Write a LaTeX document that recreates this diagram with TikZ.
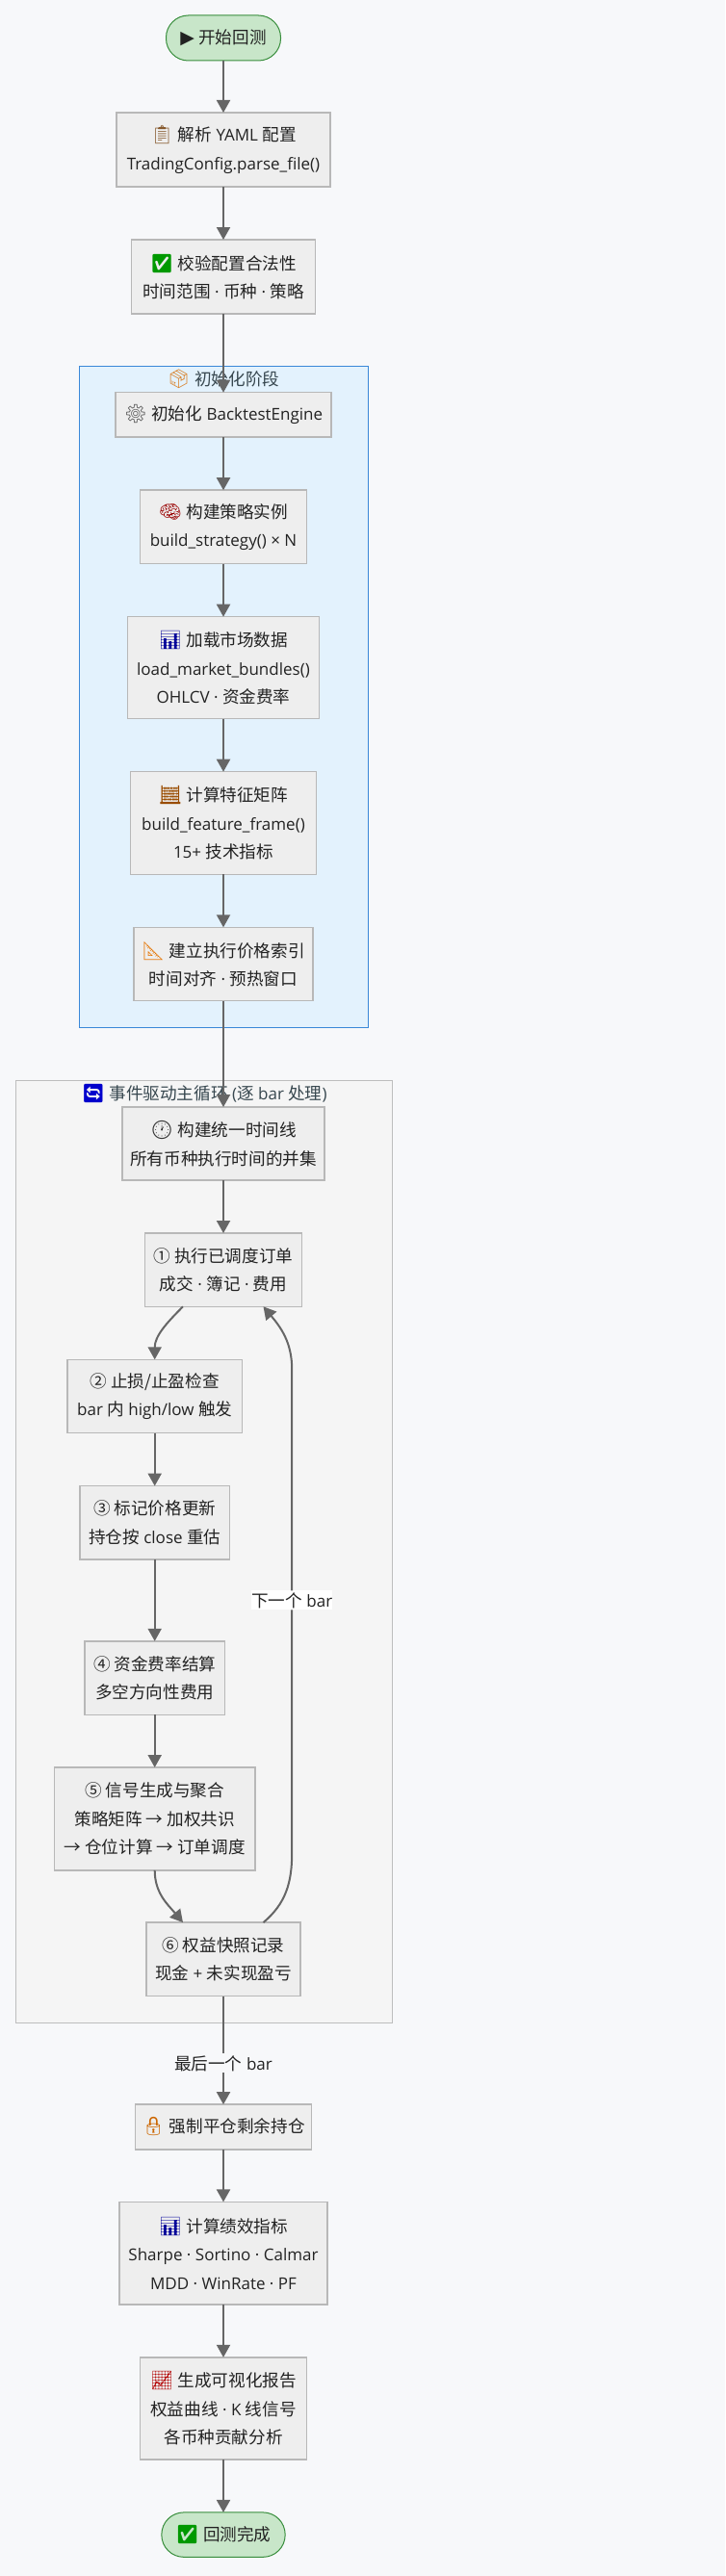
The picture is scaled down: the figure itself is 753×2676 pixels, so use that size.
\documentclass[tikz,border=0pt]{standalone}
\usepackage{fontspec}
\setmainfont{Open Sans}
\newfontfamily\cjkfont{Noto Sans CJK SC}
\newfontfamily\emojifont{Noto Emoji}
\newfontfamily\symfont{DejaVu Sans}
\usetikzlibrary{arrows.meta,positioning,fit,calc,backgrounds}
\definecolor{PageBg}{HTML}{F7F8FA}
\definecolor{BoxFill}{HTML}{EEEEEE}
\definecolor{BoxLine}{HTML}{B8B8B8}
\definecolor{EdgeGray}{HTML}{666666}
\definecolor{TextMain}{HTML}{222222}
\definecolor{TitleText}{HTML}{37474F}
\definecolor{TermFill}{HTML}{C8E6C9}
\definecolor{TermLine}{HTML}{388E3C}
\definecolor{InitFill}{HTML}{E3F2FD}
\definecolor{InitLine}{HTML}{3A88D8}
\definecolor{LoopFill}{HTML}{F5F5F5}
\definecolor{LoopLine}{HTML}{BDBDBD}
\newcommand{\zh}[1]{{\cjkfont\fontsize{17.6}{29.5}\selectfont #1}}
\newcommand{\emo}[2]{{\color{#1}\emojifont\fontsize{19}{29.5}\selectfont #2}}
\tikzset{
  basenode/.style={inner sep=0pt,outer sep=0pt,align=center,text=TextMain,font=\fontsize{17}{29.5}\selectfont},
  stepbox/.style={basenode,draw=BoxLine,fill=BoxFill,line width=1.5pt},
  termnode/.style={basenode,draw=TermLine,fill=TermFill,line width=1pt,rounded corners=23pt,minimum height=47pt},
  clusterbox/.style={draw=#1,inner sep=0pt,line width=1pt},
  clustertitle/.style={basenode,text=TitleText},
  edgelabel/.style={basenode,fill=white,minimum height=20pt},
  arrow/.style={-{Triangle[length=13pt,width=14pt]},line width=2pt,draw=EdgeGray}
}
\begin{document}
\begin{tikzpicture}[x=1pt,y=1pt,node distance=55pt]
\node[termnode,minimum width=119pt] (start) at (232,-39.5) {{\symfont\fontsize{19}{29.5}\selectfont ▶} \zh{开始回测}};
\node[stepbox,below=54pt of start,minimum width=222pt,minimum height=77pt] (parse) {\emo{brown!70!black}{📋} \zh{解析} YAML \zh{配置}\\TradingConfig.parse\_file()};
\node[stepbox,below=of parse,minimum width=191pt,minimum height=77pt] (check) {\emo{green!60!black}{✅} \zh{校验配置合法性}\\\zh{时间范围} · \zh{币种} · \zh{策略}};
% init stage
\node[stepbox,below=81.7pt of check,minimum width=224pt,minimum height=46.5pt] (engine) {\emo{black!70}{⚙} \zh{初始化} BacktestEngine};
\node[stepbox,below=of engine,minimum width=173.4pt,minimum height=76.5pt] (strategy) {\emo{red!60!black}{🧠} \zh{构建策略实例}\\build\_strategy() × N};
\node[stepbox,below=of strategy,minimum width=198.6pt,minimum height=106pt] (market) {\emo{blue!60!black}{📊} \zh{加载市场数据}\\load\_market\_bundles()\\OHLCV · \zh{资金费率}};
\node[stepbox,below=of market,minimum width=192.6pt,minimum height=106.6pt] (feature) {\emo{orange!60!black}{🧮} \zh{计算特征矩阵}\\build\_feature\_frame()\\15+ \zh{技术指标}};
\node[stepbox,below=of feature,minimum width=186pt,minimum height=76.3pt] (index) {\emo{orange!90!black}{📐} \zh{建立执行价格索引}\\\zh{时间对齐} · \zh{预热窗口}};
% event loop
\node[stepbox,below=110.4pt of index,minimum width=210.3pt,minimum height=76pt] (timeline) {\emo{black!80}{🕐} \zh{构建统一时间线}\\\zh{所有币种执行时间的并集}};
\node[stepbox,below=of timeline,minimum width=162.6pt,minimum height=76.3pt] (fill) {\zh{① 执行已调度订单}\\\zh{成交} · \zh{簿记} · \zh{费用}};
\node[stepbox,below=of fill,xshift=-71.3pt,minimum width=181.3pt,minimum height=76.3pt] (stop) {\zh{② 止损/止盈检查}\\bar \zh{内} high/low \zh{触发}};
\node[stepbox,below=of stop,minimum width=155.3pt,minimum height=76.6pt] (mark) {\zh{③ 标记价格更新}\\\zh{持仓按} close \zh{重估}};
\node[stepbox,below=84.6pt of mark,minimum width=145.3pt,minimum height=76.6pt] (funding) {\zh{④ 资金费率结算}\\\zh{多空方向性费用}};
\node[stepbox,below=54.6pt of funding,minimum width=208.3pt,minimum height=106.8pt] (signal) {\zh{⑤ 信号生成与聚合}\\\zh{策略矩阵 → 加权共识}\\\zh{→ 仓位计算 → 订单调度}};
\node[stepbox,below=54.3pt of signal,xshift=71.3pt,minimum width=159.7pt,minimum height=76.6pt] (snapshot) {\zh{⑥ 权益快照记录}\\\zh{现金} + \zh{未实现盈亏}};
% after the loop
\node[stepbox,below=112.4pt of snapshot,minimum width=183pt,minimum height=46.7pt] (close) {\emo{orange!80!black}{🔒} \zh{强制平仓剩余持仓}};
\node[stepbox,below=54.6pt of close,minimum width=216pt,minimum height=106.4pt] (metrics) {\emo{blue!60!black}{📊} \zh{计算绩效指标}\\Sharpe · Sortino · Calmar\\MDD · WinRate · PF};
\node[stepbox,below=of metrics,minimum width=172.6pt,minimum height=106.1pt] (report) {\emo{red!70!black}{📈} \zh{生成可视化报告}\\\zh{权益曲线} · K \zh{线信号}\\\zh{各币种贡献分析}};
\node[termnode,below=of report,minimum width=128.3pt,minimum height=46.4pt] (finish) {\emo{green!60!black}{✅} \zh{回测完成}};
% edge ends on the box sides
\coordinate (fillout) at ($(fill.south)+(-42,0)$);
\coordinate (fillin) at ($(fill.south)+(41.5,0)$);
\coordinate (signalin) at ($(snapshot.north)+(-42,0)$);
\coordinate (snapout) at ($(snapshot.north)+(41.5,0)$);
\coordinate (loopbot) at ($(snapout)+(29.7,72)$);
\coordinate (looptop) at ($(fillin)+(29.7,-65)$);
\node[edgelabel] (nextlabel) at ($(fillin)+(29.7,-305)$) {\zh{下一个} bar};
\node[edgelabel,fill=PageBg] (lastlabel) at ($(snapshot.south)+(0,-69.7)$) {\zh{最后一个} bar};
\begin{scope}[on background layer]
\path[fill=PageBg,use as bounding box] (0,0) rectangle (753,-2676);
\node[clusterbox=InitLine,fill=InitFill,fit=(engine)(market)(index),inner xsep=38pt,inner ysep=27.7pt] (initbox) {};
\node[clusterbox=LoopLine,fill=LoopFill,fit=(timeline)(signal)(snapshot)(nextlabel),inner xsep=51pt,inner ysep=27.5pt,xshift=11.4pt] (loopbox) {};
\end{scope}
\node[clustertitle,below=4pt of initbox.north] (inittitle) {\emo{brown!60!orange}{📦} \zh{初始化阶段}};
\node[clustertitle,below=4pt of loopbox.north] (looptitle) {\emo{blue!80!black}{🔄} \zh{事件驱动主循环} (\zh{逐} bar \zh{处理})};
\draw[arrow] (start) -- (parse);
\draw[arrow] (parse) -- (check);
\draw[arrow] (check) -- (engine);
\draw[arrow] (engine) -- (strategy);
\draw[arrow] (strategy) -- (market);
\draw[arrow] (market) -- (feature);
\draw[arrow] (feature) -- (index);
\draw[arrow] (index) -- (timeline);
\draw[arrow] (timeline) -- (fill);
\draw[arrow] (fillout) to[out=-135,in=90] (stop.north);
\draw[arrow] (stop) -- (mark);
\draw[arrow] (mark) -- (funding);
\draw[arrow] (funding) -- (signal);
\draw[arrow] (signal.south) to[out=-90,in=130] (signalin);
\draw[arrow] (snapout) to[out=40,in=-90] (loopbot) -- (nextlabel) -- (looptop) to[out=90,in=-50] (fillin);
\draw[arrow] (snapshot) -- (lastlabel) -- (close);
\draw[arrow] (close) -- (metrics);
\draw[arrow] (metrics) -- (report);
\draw[arrow] (report) -- (finish);
\end{tikzpicture}
\end{document}
